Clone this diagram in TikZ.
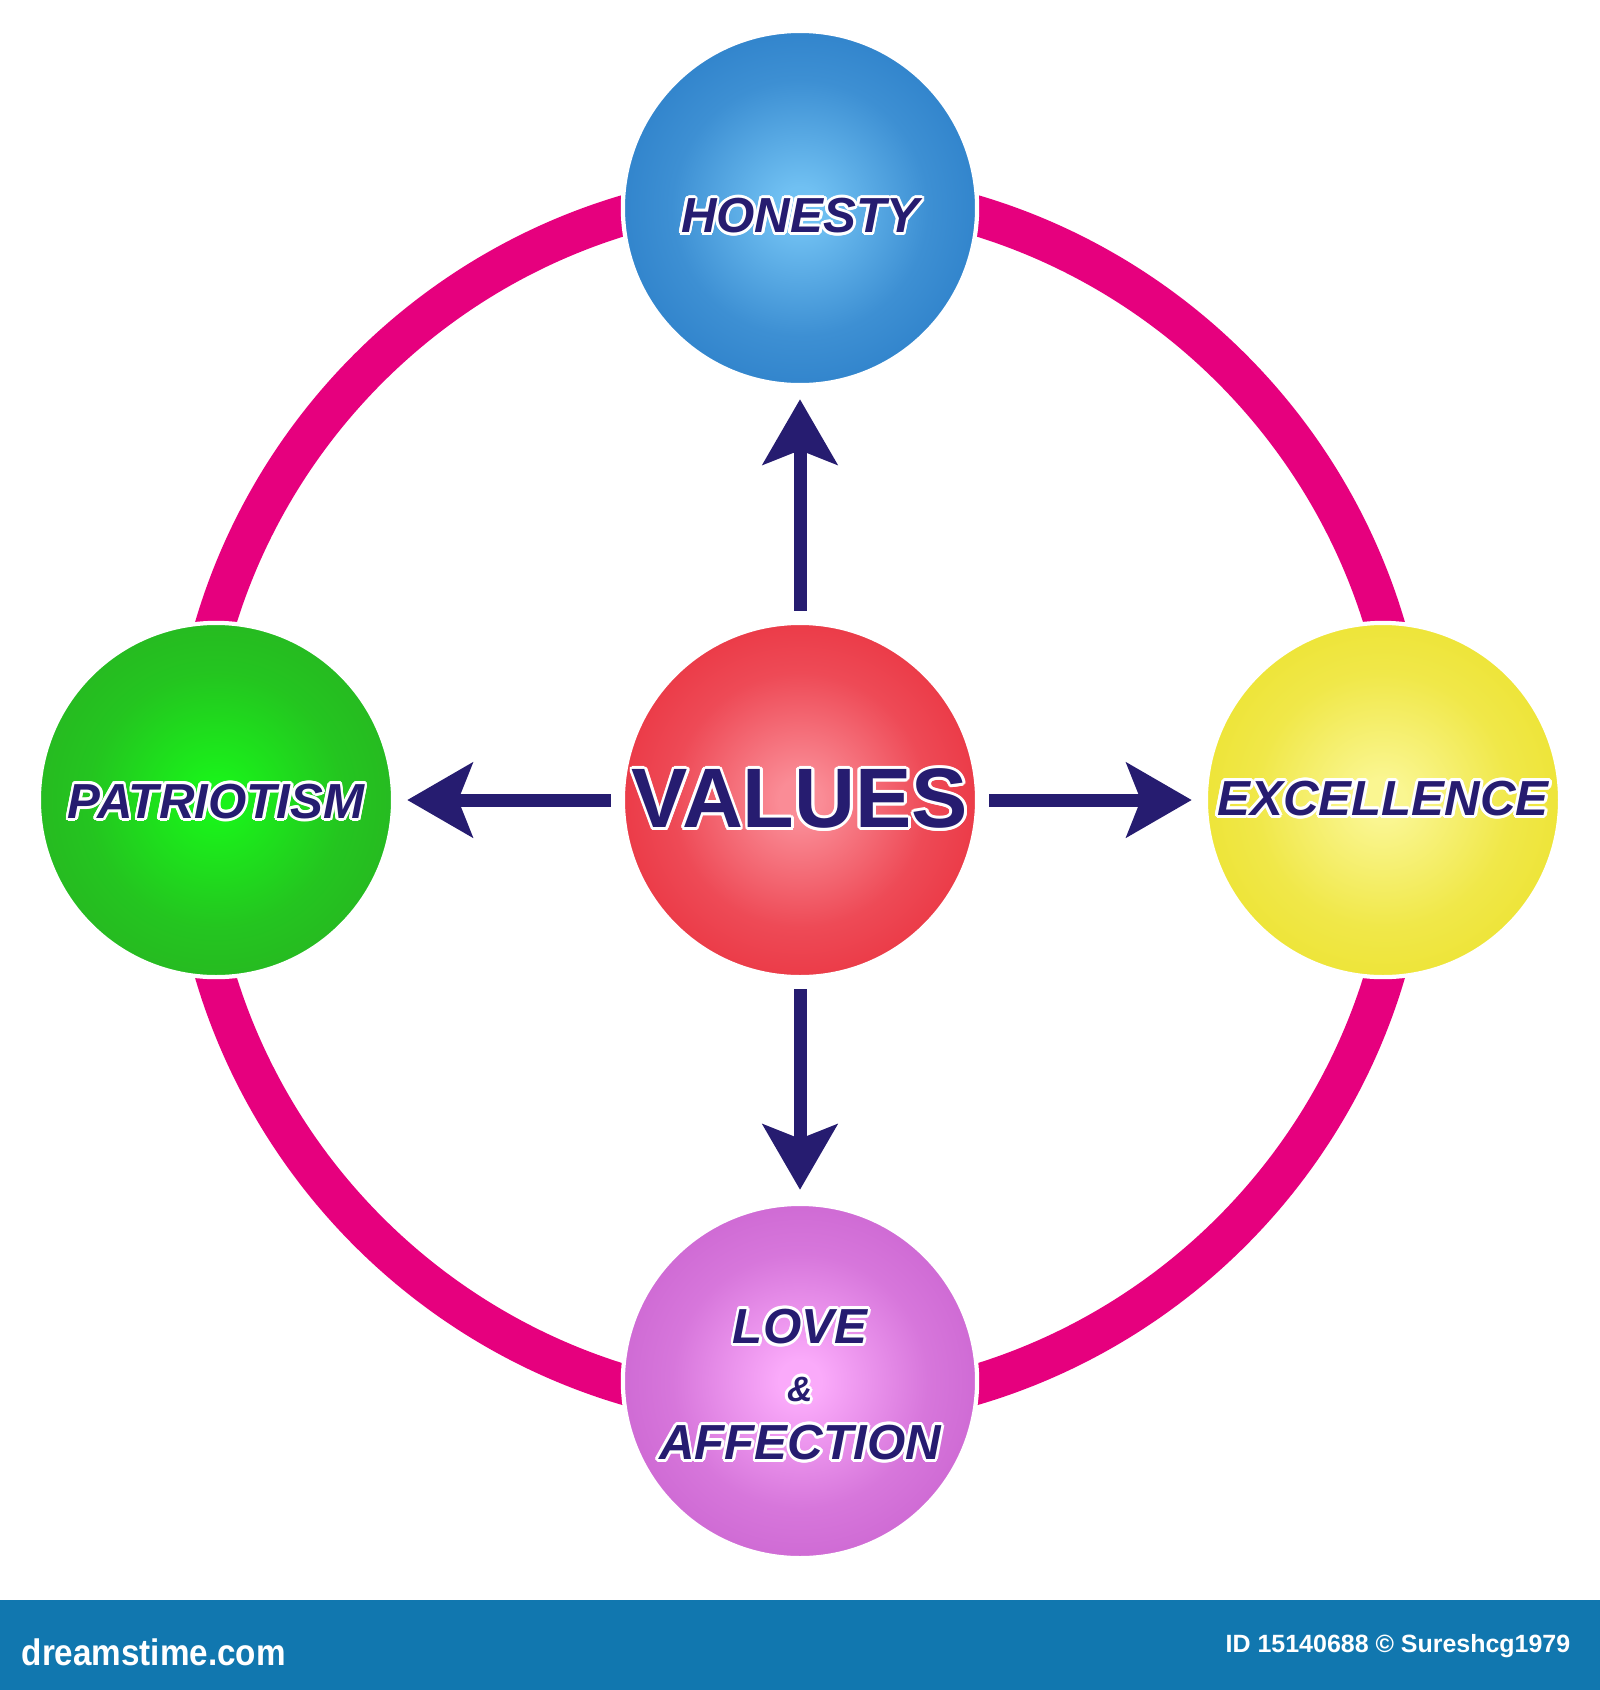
\documentclass[tikz,border=0pt]{standalone}
\usepackage{fontspec}
\setmainfont{Liberation Sans}
\usepackage{graphicx}
\usepackage{contour}
\usetikzlibrary{arrows.meta}

\definecolor{inkblue}{RGB}{38,28,112}
\definecolor{ringpink}{RGB}{230,0,126}
\definecolor{barblue}{RGB}{17,119,175}
% ball colours, centre and rim
\definecolor{honin}{RGB}{112,192,242}
\definecolor{honout}{RGB}{20,104,186}
\definecolor{valin}{RGB}{250,140,150}
\definecolor{valout}{RGB}{228,20,34}
\definecolor{patin}{RGB}{26,242,26}
\definecolor{patout}{RGB}{44,160,36}
\definecolor{excin}{RGB}{250,246,145}
\definecolor{excout}{RGB}{232,220,14}
\definecolor{lovin}{RGB}{250,170,250}
\definecolor{lovout}{RGB}{186,76,194}

% radial shading for the balls, colours set per node
\pgfdeclareradialshading[orbin,orbout]{orb}{\pgfpoint{0bp}{0bp}}{%
	color(0bp)=(orbin); color(3bp)=(orbin); color(18bp)=(orbin!45!orbout);
	color(44bp)=(orbout); color(50bp)=(orbout)}

\contourlength{0.8pt}
% lower a label without changing its box
\newcommand{\sink}[2]{\raisebox{-#1}[\height][\depth]{\contour{white}{#2}}}

\begin{document}
\begin{tikzpicture}[
		x=0.01cm, y=-0.01cm,
		ball/.style 2 args={circle, minimum size=3.54cm, inner sep=0pt,
			draw=white, line width=1.2pt,
			/utils/exec={\colorlet{orbin}{#1}\colorlet{orbout}{#2}},
			shade, shading=orb},
		word/.style={font=\fontsize{14}{16.5}\selectfont\bfseries\itshape, text=inkblue, align=center},
		ringline/.style={draw=ringpink, line width=11.4pt},
		flow/.style={-{Stealth[length=18.5pt, width=21pt, inset=4pt]}, draw=inkblue,
			line width=3.7pt, shorten <=0.1cm, shorten >=0.12cm},
		>=Stealth
		]
		\useasboundingbox (0,0) rectangle (1600,1690);
		
		% Ring behind the balls
		\coordinate (mid) at (800,800);
		\draw[ringline] (mid) circle[radius=6.1cm];
		
		% Positions of the balls
		\node[ball={valin}{valout}] (val) at (800,800)
			{\fontsize{24}{28}\selectfont\bfseries\color{inkblue}\contour{white}{VALUES}};
		\node[ball={honin}{honout}, word] (hon) at (800,208)
			{\sink{2.6pt}{HONESTY}};
		\node[ball={patin}{patout}, word] (pat) at (216,800)
			{\sink{0.8pt}{PATRIOTISM}};
		\node[ball={excin}{excout}, word] (exc) at (1383,800)
			{\contour{white}{EXCELLENCE}};
		\node[ball={lovin}{lovout}, word] (lov) at (800,1381)
			{\sink{1.4pt}{LOVE}\\
			{\fontsize{10}{16.5}\selectfont\sink{1.4pt}{\&}}\\
			\sink{1.4pt}{AFFECTION}};
		
		% Arrows out of the centre
		\draw[flow] (val) -- (hon);
		\draw[flow] (val) -- (pat);
		\draw[flow] (val) -- (exc);
		\draw[flow] (val) -- (lov);
		
		% Credit strip
		\fill[barblue] (0,1600) rectangle (1600,1690);
		\node[anchor=west, text=white, inner sep=0pt] (site) at (21,1652)
			{\scalebox{0.9}[1]{\fontsize{10.5}{12}\selectfont\bfseries dreamstime.com}};
		\node[anchor=east, text=white, inner sep=0pt] (credit) at (1571,1646)
			{\fontsize{7.1}{9}\selectfont\bfseries ID 15140688 \textcopyright{} Sureshcg1979};
		
	\end{tikzpicture}
\end{document}
